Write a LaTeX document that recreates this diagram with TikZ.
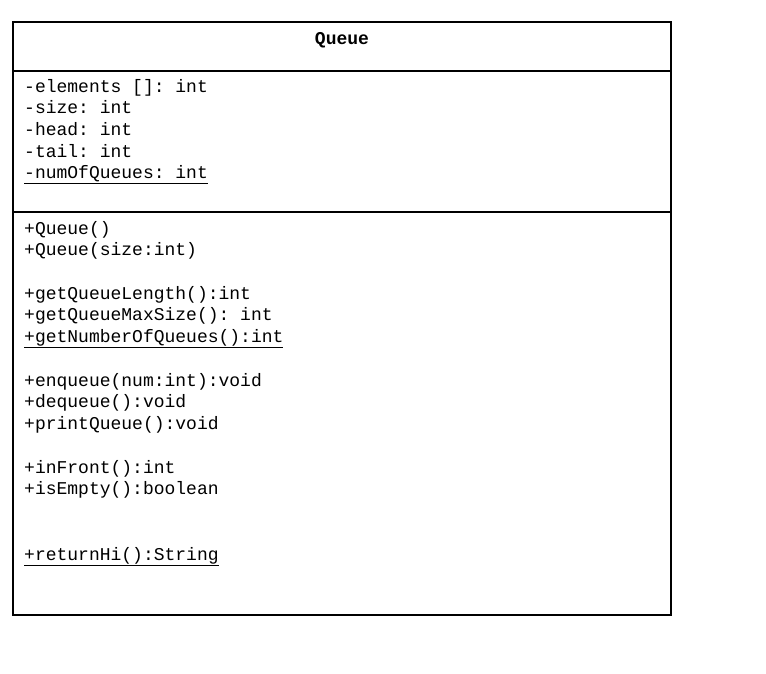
\documentclass[tikz,border=0pt]{standalone}
\usepackage{fontspec}
\setmonofont{Liberation Mono}
\begin{document}
\begin{tikzpicture}[x=1pt,y=-1pt,
  member/.style={anchor=base west,inner sep=0pt,font=\fontsize{18}{20}\ttfamily},
  frame/.style={draw,line width=1.2pt}]
\useasboundingbox (0,0) rectangle (766,673);
\draw[frame] (13,22) rectangle (671,615);
\draw[frame] (13,71) -- (671,71);
\draw[frame] (13,212) -- (671,212);
\node[member,anchor=base,font=\fontsize{18}{20}\ttfamily\bfseries] (title) at (342,44) {Queue};
\node[member] (a1) at (24,92) {-elements []: int};
\node[member] (a2) at (24,113.7) {-size: int};
\node[member] (a3) at (24,135.4) {-head: int};
\node[member] (a4) at (24,157.1) {-tail: int};
\node[member] (a5) at (24,178.8) {\underline{-numOfQueues: int}};
\node[member] (m1) at (24,234) {+Queue()};
\node[member] (m2) at (24,255.7) {+Queue(size:int)};
\node[member] (m3) at (24,299) {+getQueueLength():int};
\node[member] (m4) at (24,320.7) {+getQueueMaxSize(): int};
\node[member] (m5) at (24,342.4) {\underline{+getNumberOfQueues():int}};
\node[member] (m6) at (24,386) {+enqueue(num:int):void};
\node[member] (m7) at (24,407.7) {+dequeue():void};
\node[member] (m8) at (24,429.4) {+printQueue():void};
\node[member] (m9) at (24,473) {+inFront():int};
\node[member] (m10) at (24,494.7) {+isEmpty():boolean};
\node[member] (m11) at (24,560) {\underline{+returnHi():String}};
\end{tikzpicture}
\end{document}
